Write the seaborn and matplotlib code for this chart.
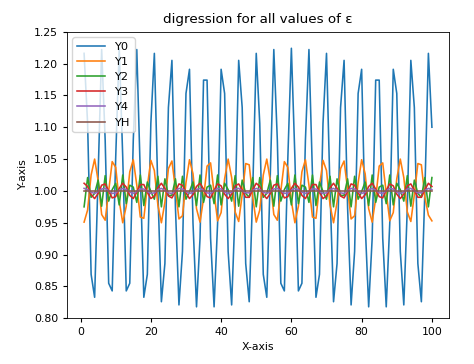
import matplotlib
matplotlib.use("Agg")
import matplotlib.pyplot as plt
import seaborn as sns
import numpy as np

x = list(range(1, 101))

y0 = [1.216, 1.106, 0.869, 0.833, 1.026, 1.222, 1.080, 0.855, 0.843, 1.053,
      1.224, 1.053, 0.843, 0.855, 1.080, 1.222, 1.026, 0.833, 0.869, 1.106,
      1.216, 1.000, 0.826, 0.886, 1.131, 1.205, 0.974, 0.821, 0.905, 1.153,
      1.191, 0.949, 0.818, 0.926, 1.174, 1.174, 0.926, 0.818, 0.949, 1.191,
      1.153, 0.905, 0.821, 0.974, 1.205, 1.131, 0.886, 0.826, 1.000, 1.216,
      1.106, 0.869, 0.833, 1.026, 1.222, 1.080, 0.855, 0.843, 1.053, 1.224,
      1.053, 0.843, 0.855, 1.080, 1.222, 1.026, 0.833, 0.869, 1.106, 1.216,
      1.000, 0.826, 0.886, 1.131, 1.205, 0.974, 0.821, 0.905, 1.153, 1.191,
      0.949, 0.818, 0.926, 1.174, 1.174, 0.926, 0.818, 0.949, 1.191, 1.153,
      0.905, 0.821, 0.974, 1.205, 1.131, 0.886, 0.826, 1.000, 1.216, 1.100]

y1 = [0.951, 0.970, 1.025, 1.050, 1.016, 0.963, 0.954, 1.000, 1.046, 1.037,
      0.984, 0.950, 0.976, 1.030, 1.049, 1.009, 0.959, 0.957, 1.007, 1.048,
      1.032, 0.978, 0.950, 0.982, 1.035, 1.047, 1.003, 0.956, 0.961, 1.013,
      1.049, 1.027, 0.972, 0.951, 0.988, 1.039, 1.044, 0.997, 0.953, 0.966,
      1.019, 1.050, 1.021, 0.967, 0.952, 0.994, 1.043, 1.041, 0.990, 0.951,
      0.970, 1.025, 1.050, 1.016, 0.963, 0.954, 1.000, 1.046, 1.037, 0.984,
      0.950, 0.976, 1.030, 1.049, 1.009, 0.959, 0.957, 1.007, 1.048, 1.032,
      0.978, 0.950, 0.982, 1.035, 1.047, 1.003, 0.956, 0.961, 1.013, 1.049,
      1.027, 0.972, 0.951, 0.988, 1.039, 1.044, 0.997, 0.953, 0.966, 1.019,
      1.050, 1.021, 0.967, 0.952, 0.994, 1.043, 1.041, 0.990, 0.962, 0.953]

y2 = [0.975, 1.021, 0.990, 0.996, 1.017, 0.976, 1.024, 0.984, 1.002, 1.012,
      0.978, 1.025, 0.980, 1.009, 1.006, 0.982, 1.025, 0.977, 1.014, 0.999,
      0.987, 1.023, 0.975, 1.019, 0.993, 0.993, 1.019, 0.975, 1.023, 0.987,
      0.999, 1.014, 0.977, 1.025, 0.982, 1.006, 1.009, 0.980, 1.025, 0.978,
      1.012, 1.002, 0.984, 1.024, 0.976, 1.017, 0.996, 0.990, 1.021, 0.975,
      1.021, 0.990, 0.996, 1.017, 0.976, 1.024, 0.984, 1.002, 1.012, 0.978,
      1.025, 0.980, 1.009, 1.006, 0.982, 1.025, 0.977, 1.014, 0.999, 0.987,
      1.023, 0.975, 1.019, 0.993, 0.993, 1.019, 0.975, 1.023, 0.987, 0.999,
      1.014, 0.977, 1.025, 0.982, 1.006, 1.009, 0.980, 1.025, 0.978, 1.012,
      1.002, 0.984, 1.024, 0.976, 1.017, 0.996, 0.990, 1.021, 0.975, 1.021]

y3 = [1.012, 1.007, 0.994, 0.988, 0.996, 1.009, 1.011, 1.000, 0.989, 0.991,
      1.004, 1.012, 1.006, 0.993, 0.988, 0.998, 1.010, 1.010, 0.998, 0.988,
      0.992, 1.005, 1.012, 1.004, 0.992, 0.989, 0.999, 1.011, 1.009, 0.997,
      0.988, 0.994, 1.007, 1.012, 1.003, 0.991, 0.989, 1.001, 1.011, 1.008,
      0.995, 0.988, 0.995, 1.008, 1.011, 1.001, 0.990, 0.990, 1.002, 1.012,
      1.007, 0.994, 0.988, 0.996, 1.009, 1.011, 1.000, 0.989, 0.991, 1.004,
      1.012, 1.006, 0.993, 0.988, 0.998, 1.010, 1.010, 0.998, 0.988, 0.992,
      1.005, 1.012, 1.004, 0.992, 0.989, 0.999, 1.011, 1.009, 0.997, 0.988,
      0.994, 1.007, 1.012, 1.003, 0.991, 0.989, 1.001, 1.011, 1.008, 0.995,
      0.988, 0.995, 1.008, 1.011, 1.001, 0.990, 0.990, 1.002, 1.012, 1.007]

y4 = [1.004, 1.002, 0.998, 0.996, 0.999, 1.003, 1.004, 1.000, 0.996, 0.997,
      1.001, 1.004, 1.002, 0.998, 0.996, 0.999, 1.003, 1.003, 0.999, 0.996,
      0.997, 1.002, 1.004, 1.001, 0.997, 0.996, 1.000, 1.004, 1.003, 0.999,
      0.996, 0.998, 1.002, 1.004, 1.001, 0.997, 0.996, 1.000, 1.004, 1.003,
      0.998, 0.996, 0.998, 1.003, 1.004, 1.000, 0.997, 0.997, 1.001, 1.004,
      1.002, 0.998, 0.996, 0.999, 1.003, 1.004, 1.000, 0.996, 0.997, 1.001,
      1.004, 1.002, 0.998, 0.996, 0.999, 1.003, 1.003, 0.999, 0.996, 0.997,
      1.002, 1.004, 1.001, 0.997, 0.996, 1.000, 1.004, 1.003, 0.999, 0.996,
      0.998, 1.002, 1.004, 1.001, 0.997, 0.996, 1.000, 1.004, 1.003, 0.998,
      0.996, 0.998, 1.003, 1.004, 1.000, 0.997, 0.997, 1.001, 1.004, 1.002]

yh = [1.0, 1.0, 1.0, 1.0, 1.0, 1.0, 1.0, 1.0, 1.0, 1.0,
      1.0, 1.0, 1.0, 1.0, 1.0, 1.0, 1.0, 1.0, 1.0, 1.0,
      1.0, 1.0, 1.0, 1.0, 1.0, 1.0, 1.0, 1.0, 1.0, 1.0,
      1.0, 1.0, 1.0, 1.0, 1.0, 1.0, 1.0, 1.0, 1.0, 1.0,
      1.0, 1.0, 1.0, 1.0, 1.0, 1.0, 1.0, 1.0, 1.0, 1.0,
      1.0, 1.0, 1.0, 1.0, 1.0, 1.0, 1.0, 1.0, 1.0, 1.0,
      1.0, 1.0, 1.0, 1.0, 1.0, 1.0, 1.0, 1.0, 1.0, 1.0,
      1.0, 1.0, 1.0, 1.0, 1.0, 1.0, 1.0, 1.0, 1.0, 1.0,
      1.0, 1.0, 1.0, 1.0, 1.0, 1.0, 1.0, 1.0, 1.0, 1.0,
      1.0, 1.0, 1.0, 1.0, 1.0, 1.0, 1.0, 1.0, 1.0, 1.0]

names = ["Y0", "Y1", "Y2", "Y3", "Y4", "YH"]
series = [y0, y1, y2, y3, y4, yh]
colors = ["#1f77b4", "#ff7f0e", "#2ca02c", "#d62728", "#9467bd", "#8c564b"]

fs = 7.8
plt.rcParams.update({
    "font.family": ["DejaVu Sans"],
    "font.size": fs,
    "xtick.labelsize": fs,
    "ytick.labelsize": fs,
    "axes.labelsize": fs,
    "axes.titlesize": 9.7,
    "legend.fontsize": 8.2,
    "xtick.major.size": 2.7,
    "ytick.major.size": 2.7,
    "axes.linewidth": 0.6,
})

fig = plt.figure(figsize=(4.74, 3.64), dpi=100)
ax = fig.add_axes([66.7 / 474, 1 - 318.3 / 364, (449.3 - 66.7) / 474, (318.3 - 31.7) / 364])

for name, ys, c in zip(names, series, colors):
    sns.lineplot(x=x, y=ys, ax=ax, color=c, label=name, linewidth=1.15, errorbar=None)

ax.set_ylim(0.80, 1.25)
ax.set_yticks([0.80, 0.85, 0.90, 0.95, 1.00, 1.05, 1.10, 1.15, 1.20, 1.25])
ax.set_xticks([0, 20, 40, 60, 80, 100])
ax.set_title("digression for all values of ε")
ax.set_xlabel("X-axis")
ax.set_ylabel("Y-axis")
ax.legend(loc="upper left", fontsize=8.2, handlelength=2.5, borderpad=0.4,
          labelspacing=0.45, handletextpad=0.8)

fig.savefig("out.png", dpi=100)
